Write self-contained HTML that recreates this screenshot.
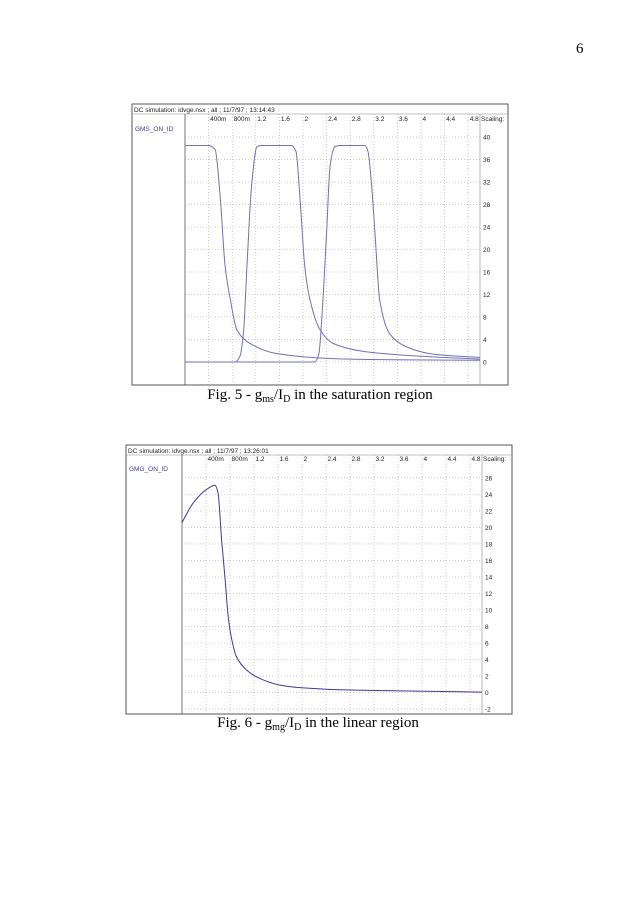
<!DOCTYPE html>
<html><head><meta charset="utf-8"><style>
html,body{margin:0;padding:0;background:#fff;}
svg{display:block;font-family:"Liberation Sans",Arial,sans-serif;}
</style></head><body>
<svg id="page" width="638" height="903" viewBox="0 0 638 903">
<text x="576" y="53" font-family="Liberation Serif" font-size="15">6</text>
<g id="c1"></g>
<g id="c2"></g>
<text x="320" y="399" text-anchor="middle" font-family="Liberation Serif" font-size="15">Fig. 5 - g<tspan font-size="10" dy="3">ms</tspan><tspan dy="-3">/I</tspan><tspan font-size="10" dy="3">D</tspan><tspan dy="-3"> in the saturation region</tspan></text>
<text x="318" y="727" text-anchor="middle" font-family="Liberation Serif" font-size="15">Fig. 6 - g<tspan font-size="10" dy="3">mg</tspan><tspan dy="-3">/I</tspan><tspan font-size="10" dy="3">D</tspan><tspan dy="-3"> in the linear region</tspan></text>
</svg>
<script>
const xTickLabels = ["400m","800m","1.2","1.6","2","2.4","2.8","3.2","3.6","4","4.4","4.8"];
const xTicks = [0.4,0.8,1.2,1.6,2.0,2.4,2.8,3.2,3.6,4.0,4.4,4.8];
// Fig 5 data
const f5YTicks = [0,4,8,12,16,20,24,28,32,36,40];
const f5A_x = [0,0.4,0.51,0.6,0.68,0.77,0.88,1.1,1.55,2.5,3.5,5.0];
const f5A_y = [38.5,38.5,37.8,28.9,17,11,5.7,3.3,1.5,0.6,0.4,0.3];
const f5B_x = [0,0.85,0.93,0.99,1.05,1.13,1.22,1.3,1.8,1.88,1.95,2.03,2.12,2.29,2.51,3.08,4.2,5.0];
const f5B_y = [0,0,1,5,17,31.5,38.3,38.5,38.5,37.5,29,17,11,5.7,3.3,1.8,0.9,0.5];
const f5C_x = [0,2.2,2.27,2.32,2.4,2.46,2.54,2.62,3.05,3.1,3.16,3.22,3.3,3.47,3.75,4.2,5.0];
const f5C_y = [0,0,1.5,8,23,35,38.3,38.5,38.5,37.5,31.8,22.9,11,5,2.7,1.4,0.8];
// Fig 6 data
const f6YTicks = [-2,0,2,4,6,8,10,12,14,16,18,20,22,24,26];
const f6_x = [0,0.19,0.41,0.55,0.6,0.66,0.72,0.77,0.83,0.91,1.08,1.24,1.63,2.02,2.8,3.63,5.0];
const f6_y = [20.6,23,24.6,25.1,24.2,18.5,13.6,9.2,6.4,4.3,2.7,1.9,0.9,0.57,0.3,0.2,0.05];

const NS="http://www.w3.org/2000/svg";
function mk(parent,tag,attrs){const e=document.createElementNS(NS,tag);for(const k in attrs)e.setAttribute(k,attrs[k]);parent.appendChild(e);return e;}
function monotone(pts){
 const n=pts.length,dx=[],m=[],t=[];
 for(let i=0;i<n-1;i++){dx[i]=pts[i+1][0]-pts[i][0];m[i]=(pts[i+1][1]-pts[i][1])/dx[i];}
 t[0]=m[0];t[n-1]=m[n-2];
 for(let i=1;i<n-1;i++){ if(m[i-1]*m[i]<=0)t[i]=0; else {const w1=2*dx[i]+dx[i-1],w2=dx[i]+2*dx[i-1];t[i]=(w1+w2)/(w1/m[i-1]+w2/m[i]);}}
 for(let i=0;i<n-1;i++){ if(m[i]===0){t[i]=0;t[i+1]=0;} }
 let d="M"+pts[0][0].toFixed(2)+","+pts[0][1].toFixed(2);
 for(let i=0;i<n-1;i++){const h=dx[i]/3;
  d+=" C"+(pts[i][0]+h).toFixed(2)+","+(pts[i][1]+h*t[i]).toFixed(2)+" "+(pts[i+1][0]-h).toFixed(2)+","+(pts[i+1][1]-h*t[i+1]).toFixed(2)+" "+pts[i+1][0].toFixed(2)+","+pts[i+1][1].toFixed(2);}
 return d;}
function chart(g,cfg){
 const {L,R,T,B,div,h1,h2,pr,ymin,ymax,yTicks,title,sig,series,color}=cfg;
 const xs=v=>div+(pr-div)*v/5;
 const ys=v=>B-(B-h2)*(v-ymin)/(ymax-ymin);
 const box=mk(g,"rect",{x:L,y:T,width:R-L,height:B-T,fill:"#fff",stroke:"#555","stroke-width":1});
 
 
 mk(g,"line",{x1:L,y1:h1,x2:R,y2:h1,stroke:"#888","stroke-width":0.6});
 mk(g,"line",{x1:div,y1:h1,x2:div,y2:B,stroke:"#555","stroke-width":0.8});
 mk(g,"line",{x1:pr,y1:h1,x2:pr,y2:B,stroke:"#888","stroke-width":0.6});
 const t=mk(g,"text",{x:L+2,y:h1-2,"font-size":6.5,fill:"#222"});t.textContent=title;
 
 
 const s=mk(g,"text",{x:L+3,y:h2+8,"font-size":6.5,fill:"#3a3a9a"});s.textContent=sig;
 
 
 const sc=mk(g,"text",{x:pr+1,y:h2-2,"font-size":6.5,fill:"#222"});sc.textContent="Scaling:";
 
 
 xTicks.forEach((v,i)=>{const x=xs(v);
  const gl=mk(g,"line",{x1:x,y1:h1,x2:x,y2:B,stroke:"#aaa","stroke-width":0.6,"stroke-dasharray":"1,2"});
  
  
  const tl=mk(g,"text",{x:x+1.5,y:h2-2,"font-size":6.5,"text-anchor":"start",fill:"#222"});tl.textContent=xTickLabels[i];
  
  });
 yTicks.forEach(v=>{const y=ys(v);
  const gl=mk(g,"line",{x1:div,y1:y,x2:pr,y2:y,stroke:"#aaa","stroke-width":0.6,"stroke-dasharray":"1,2"});
  
  
  const tl=mk(g,"text",{x:pr+3,y:y+2.5,"font-size":6.5,fill:"#222"});tl.textContent=String(v);
  
  });
 series.forEach((sr,i)=>{const pts=sr[0].map((x,j)=>[xs(x),ys(sr[1][j])]);
  const p=mk(g,"path",{d:monotone(pts),fill:"none",stroke:color,"stroke-width":1});
  
  });
}
chart(document.getElementById('c1'),{L:132,R:508,T:104,B:385,div:185,h1:114,h2:123,pr:480,ymin:-4.1,ymax:42.5,yTicks:f5YTicks,
 title:"DC simulation: idvge.nsx ; all ; 11/7/97 ; 13:14:43",sig:"GMS_ON_ID",series:[[f5A_x,f5A_y],[f5B_x,f5B_y],[f5C_x,f5C_y]],color:"#7070b8"});
chart(document.getElementById('c2'),{L:126,R:512,T:445,B:714,div:182,h1:455,h2:463,pr:482,ymin:-2.6,ymax:27.8,yTicks:f6YTicks,
 title:"DC simulation: idvge.nsx ; all ; 11/7/97 ; 13:26:01",sig:"GMG_ON_ID",series:[[f6_x,f6_y]],color:"#3a3a9a"});
</script>
</body></html>
